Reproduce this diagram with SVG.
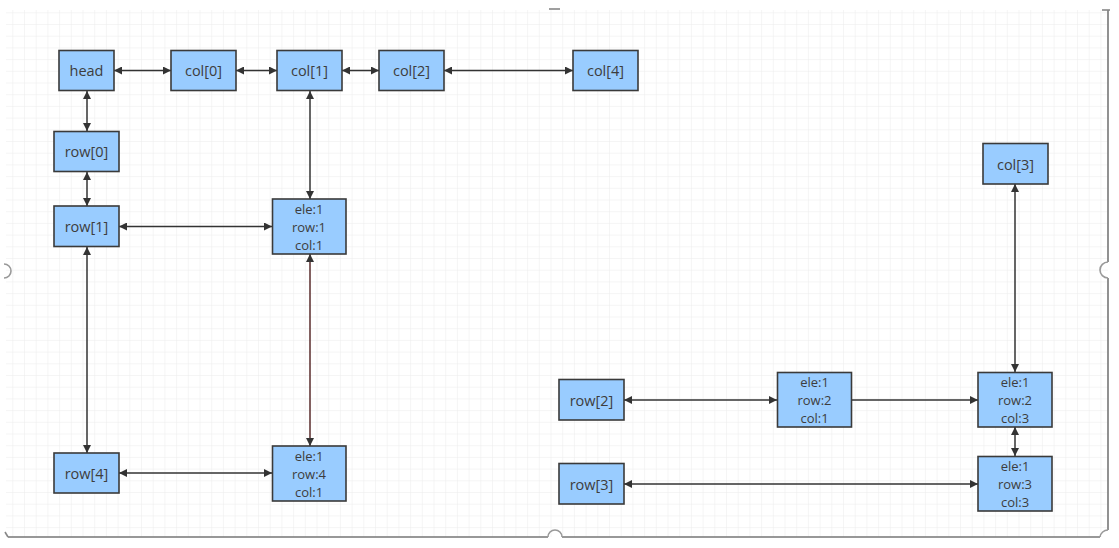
<svg xmlns="http://www.w3.org/2000/svg" width="1119" height="548" viewBox="0 0 1119 548">
<defs>
<pattern id="grid" x="1.6" y="1.6" width="11.7" height="11.7" patternUnits="userSpaceOnUse">
<path d="M11.7 0V11.7M0 11.7H11.7" fill="none" stroke="#ebebeb" stroke-width="1"/>
</pattern>
<marker id="ah" viewBox="0 0 10 10" refX="10" refY="5" markerWidth="8" markerHeight="8" markerUnits="userSpaceOnUse" orient="auto-start-reverse">
<path d="M0 0L10 5L0 10Z" fill="#333"/>
</marker>
<style>
.n rect{fill:#99ccff;stroke:#3a3a3a;stroke-width:1.6}
.n text{font-family:"Open Sans","Noto Sans CJK SC",sans-serif;font-size:14.5px;fill:#3d3d3d;text-anchor:middle;dominant-baseline:central}
.n text.m{font-size:13px}
.c line{stroke:#333;stroke-width:1.5;marker-end:url(#ah)}
.c .b{marker-start:url(#ah)}
</style>
</defs>
<rect width="1119" height="548" fill="#fff"/>
<rect x="6" y="10" width="1102" height="527" fill="url(#grid)"/>
<g id="frame" fill="none" stroke="#777" stroke-width="1.6">
<path d="M8 537H548M562 537H1100"/>
<path d="M1108 10V262M1108 278V530"/>
<path d="M548 537A7 7 0 0 1 562 537" stroke="#999"/>
<path d="M1108 262A8 8 0 0 0 1108 278" stroke="#999"/>
<path d="M4 264A6 6 0 0 1 4 278" stroke="#999"/>
<path d="M1100 537A8 8 0 0 1 1108 530" stroke="#999"/>
<path d="M549 9H560" stroke="#888"/>
<path d="M1102 10H1110" stroke="#888"/>
<path d="M5 532L8 537" stroke="#888"/>
</g>
<g id="connectors" class="c">
<line class="b" x1="114" y1="70.5" x2="171" y2="70.5"/>
<line class="b" x1="236" y1="70.5" x2="277" y2="70.5"/>
<line class="b" x1="342" y1="70.5" x2="379" y2="70.5"/>
<line class="b" x1="444" y1="70.5" x2="573" y2="70.5"/>
<line class="b" x1="87" y1="91" x2="87" y2="131"/>
<line class="b" x1="87" y1="172" x2="87" y2="206"/>
<line class="b" x1="87" y1="247" x2="87" y2="453"/>
<line class="b" x1="119" y1="226.5" x2="272" y2="226.5"/>
<line class="b" x1="310" y1="91" x2="310" y2="199"/>
<line class="b" x1="310" y1="254" x2="310" y2="446" style="stroke:#5a2c2c"/>
<line class="b" x1="119" y1="473" x2="272" y2="473"/>
<line class="b" x1="624" y1="400" x2="777" y2="400"/>
<line x1="852" y1="400" x2="978" y2="400"/>
<line class="b" x1="1015" y1="184" x2="1015" y2="372"/>
<line class="b" x1="1015" y1="427" x2="1015" y2="456"/>
<line class="b" x1="624" y1="484" x2="978" y2="484"/>
</g>
<g id="head" class="n"><rect x="59" y="50.5" width="55" height="40"/><text x="86.5" y="70.5">head</text></g>
<g id="col0" class="n"><rect x="171" y="50.5" width="65" height="40"/><text x="203.5" y="70.5">col[0]</text></g>
<g id="col1" class="n"><rect x="277" y="50.5" width="65" height="40"/><text x="309.5" y="70.5">col[1]</text></g>
<g id="col2" class="n"><rect x="379" y="50.5" width="65" height="40"/><text x="411.5" y="70.5">col[2]</text></g>
<g id="col4" class="n"><rect x="573" y="50.5" width="65" height="40"/><text x="605.5" y="70.5">col[4]</text></g>
<g id="row0" class="n"><rect x="54" y="131.5" width="65" height="40"/><text x="86.5" y="151.5">row[0]</text></g>
<g id="row1" class="n"><rect x="54" y="206" width="65" height="40.5"/><text x="86.5" y="226.5">row[1]</text></g>
<g id="row4" class="n"><rect x="54" y="453" width="65" height="40"/><text x="86.5" y="473">row[4]</text></g>
<g id="e11" class="n"><rect x="272.5" y="199" width="73.5" height="55"/><text class="m" x="309" y="208.5">ele:1</text><text class="m" x="309" y="226.5">row:1</text><text class="m" x="309" y="244.5">col:1</text></g>
<g id="e41" class="n"><rect x="272.5" y="446" width="73.5" height="55"/><text class="m" x="309" y="455.5">ele:1</text><text class="m" x="309" y="473.5">row:4</text><text class="m" x="309" y="491.5">col:1</text></g>
<g id="col3" class="n"><rect x="983" y="143.5" width="65" height="40.5"/><text x="1015.5" y="164">col[3]</text></g>
<g id="row2" class="n"><rect x="559" y="379.5" width="65" height="40.5"/><text x="591.5" y="400">row[2]</text></g>
<g id="row3" class="n"><rect x="559" y="463.5" width="65" height="40.5"/><text x="591.5" y="484">row[3]</text></g>
<g id="e21" class="n"><rect x="777.5" y="372.5" width="74" height="54.5"/><text class="m" x="814.5" y="381.7">ele:1</text><text class="m" x="814.5" y="399.7">row:2</text><text class="m" x="814.5" y="417.7">col:1</text></g>
<g id="e23" class="n"><rect x="978" y="372.5" width="74" height="54.5"/><text class="m" x="1015" y="381.7">ele:1</text><text class="m" x="1015" y="399.7">row:2</text><text class="m" x="1015" y="417.7">col:3</text></g>
<g id="e33" class="n"><rect x="978" y="456.5" width="74" height="54.5"/><text class="m" x="1015" y="465.7">ele:1</text><text class="m" x="1015" y="483.7">row:3</text><text class="m" x="1015" y="501.7">col:3</text></g>
</svg>
